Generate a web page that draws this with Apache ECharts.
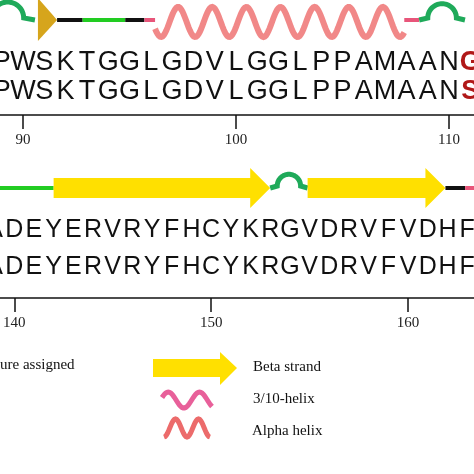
<!DOCTYPE html>
<html>
<head>
<meta charset="UTF-8">
<script src="https://cdn.jsdelivr.net/npm/echarts@6/dist/echarts.min.js"></script>
<style>html,body{margin:0;padding:0;background:#fff}</style>
</head>
<body>
<div id="main" style="width:474px;height:474px;"></div>
<script>
// sequence rows (first residue number + letters)
var topStart = 89;
var topSeq1 = 'PWSKTGGLGDVLGGLPPAMAANG';
var topSeq2 = 'PWSKTGGLGDVLGGLPPAMAANS';
var botStart = 139;
var botSeq1 = 'ADEYERVRYFHCYKRGVDRVFVDHF';
var botSeq2 = 'ADEYERVRYFHCYKRGVDRVFVDHF';
var topTicks = [90, 100, 110];
var botTicks = [140, 150, 160];
// secondary structure segments [start, end, type]
var topSS = [
  [88.0, 90.56, 'turn'], [90.7, 91.6, 'gold'], [91.6, 92.8, 'coil'], [92.8, 94.8, 'bend'],
  [94.8, 95.7, 'coil'], [95.7, 96.2, 'pinkline'], [96.2, 107.9, 'alpha'],
  [107.9, 108.6, 'pinkline'], [108.6, 110.75, 'turn']
];
var botSS = [
  [139.0, 142.0, 'bend'], [142.0, 153.0, 'strand'], [153.0, 154.9, 'turn'],
  [154.9, 161.9, 'strand'], [161.9, 162.9, 'coil'], [162.9, 163.6, 'pinkline']
];

var chart = echarts.init(document.getElementById('main'));

function letters(start, s1, s2) {
  var d = [];
  for (var i = 0; i < s1.length; i++) d.push([start + i, s1[i], s2[i]]);
  return d;
}

function seqSeries(idx, data, y1, y2, fs) {
  return {
    type: 'custom', xAxisIndex: idx, yAxisIndex: idx, data: data, silent: true,
    renderItem: function (params, api) {
      var x = api.coord([api.value(0), 0])[0];
      var last = params.dataIndex === data.length - 1 && idx === 0;
      var st = function (t, y) {
        return { type: 'text', style: { text: t, x: x, y: y, align: 'center', verticalAlign: 'middle',
          font: (last ? 'bold ' : '') + fs + 'px "Liberation Sans", Arial', fill: last ? '#b01818' : '#111' } };
      };
      return { type: 'group', children: [st(data[params.dataIndex][1], y1), st(data[params.dataIndex][2], y2)] };
    }
  };
}

function ssSeries(idx, data, yc) {
  return {
    type: 'custom', xAxisIndex: idx, yAxisIndex: idx, data: data, silent: true,
    renderItem: function (params, api) {
      var x0 = api.coord([api.value(0), 0])[0], x1 = api.coord([api.value(1), 0])[0];
      var t = data[params.dataIndex][2];
      if (t === 'coil' || t === 'bend' || t === 'pinkline') {
        var c = t === 'coil' ? '#111' : (t === 'bend' ? '#22cc22' : '#e8557a');
        return { type: 'line', shape: { x1: x0, y1: yc, x2: x1, y2: yc }, style: { stroke: c, lineWidth: 4 } };
      }
      if (t === 'turn') {
        var m = (x0 + x1) / 2, r = Math.min(16, (x1 - x0) / 3.2);
        var pts = [[x0, yc]];
        for (var a = 0; a <= 40; a++) {
          var th = Math.PI - Math.PI * a / 40;
          pts.push([m + r * Math.cos(th), yc - 2 - r * Math.sin(th)]);
        }
        pts.push([x1, yc]);
        return { type: 'polyline', shape: { points: pts }, style: { stroke: '#1faa5a', lineWidth: 5, fill: null } };
      }
      if (t === 'alpha') {
        var p = [], n = 200, per = 7.3;
        for (var k = 0; k <= n; k++) {
          var f = k / n;
          p.push([x0 + (x1 - x0) * f, yc + 2 + 15 * Math.sin(f * per * 2 * Math.PI + Math.PI * 0.15)]);
        }
        return { type: 'polyline', shape: { points: p }, style: { stroke: '#f07b7b', lineWidth: 6, fill: null, opacity: 0.9 } };
      }
      if (t === 'gold') {
        return { type: 'polygon', shape: { points: [[x0, yc - 22], [x1, yc], [x0, yc + 21]] }, style: { fill: '#d6a51c' } };
      }
      if (t === 'strand') {
        var h = x1 - 20;
        return { type: 'polygon', shape: { points: [[x0, yc - 10], [h, yc - 10], [h, yc - 20], [x1, yc],
          [h, yc + 20], [h, yc + 10], [x0, yc + 10]] }, style: { fill: '#ffe000' } };
      }
    }
  };
}

function wave(x0, w, yc, a, f0, f1) {
  var p = [];
  for (var i = 0; i <= 40; i++) {
    var f = f0 + (f1 - f0) * i / 40;
    p.push([x0 + w * i / 40, yc + a * Math.cos(4 * Math.PI * f)]);
  }
  return p;
}

var axisCommon = {
  type: 'value', position: 'bottom', splitLine: { show: false },
  axisLine: { lineStyle: { color: '#111', width: 1.5 } },
  axisTick: { inside: false, length: 14, lineStyle: { color: '#111', width: 1.5 } },
  axisLabel: { color: '#222', fontFamily: '"Liberation Serif", serif', fontSize: 15, margin: 18 }
};

var option = {
  animation: false,
  grid: [
    { left: 0, right: 0, top: 0, height: 115 },
    { left: 0, right: 0, top: 160, height: 138 }
  ],
  xAxis: [
    Object.assign({}, axisCommon, { gridIndex: 0, min: 88.92, max: 88.92 + 474 / 21.3,
      axisTick: Object.assign({ customValues: topTicks }, axisCommon.axisTick),
      axisLabel: Object.assign({ customValues: topTicks }, axisCommon.axisLabel) }),
    Object.assign({}, axisCommon, { gridIndex: 1, min: 139.29, max: 139.29 + 474 / 19.7,
      axisTick: Object.assign({ customValues: botTicks }, axisCommon.axisTick),
      axisLabel: Object.assign({ customValues: botTicks }, axisCommon.axisLabel) })
  ],
  yAxis: [
    { gridIndex: 0, show: false, min: 0, max: 1 },
    { gridIndex: 1, show: false, min: 0, max: 1 }
  ],
  series: [
    ssSeries(0, topSS, 20),
    seqSeries(0, letters(topStart, topSeq1, topSeq2), 63, 92, 27),
    ssSeries(1, botSS, 188),
    seqSeries(1, letters(botStart, botSeq1, botSeq2), 230, 267, 25)
  ],
  graphic: [
    { type: 'text', left: 0, top: 358, style: { text: 'ure assigned', font: '15px "Liberation Serif", serif', fill: '#111' } },
    { type: 'polygon', shape: { points: [[153, 359], [220, 359], [220, 352], [237, 368], [220, 385], [220, 377], [153, 377]] }, style: { fill: '#ffe000' } },
    { type: 'polyline', shape: { points: wave(162, 50, 400, 8, 0.15, 0.95) }, style: { stroke: '#e8609a', lineWidth: 5, fill: null } },
    { type: 'polyline', shape: { points: wave(164, 46, 428, 9, 0, 1) }, style: { stroke: '#ec6b6b', lineWidth: 5, fill: null } },
    { type: 'text', left: 253, top: 360, style: { text: 'Beta strand', font: '15px "Liberation Serif", serif', fill: '#111' } },
    { type: 'text', left: 253, top: 392, style: { text: '3/10-helix', font: '15px "Liberation Serif", serif', fill: '#111' } },
    { type: 'text', left: 252, top: 424, style: { text: 'Alpha helix', font: '15px "Liberation Serif", serif', fill: '#111' } }
  ]
};
chart.setOption(option);
</script>
</body>
</html>
